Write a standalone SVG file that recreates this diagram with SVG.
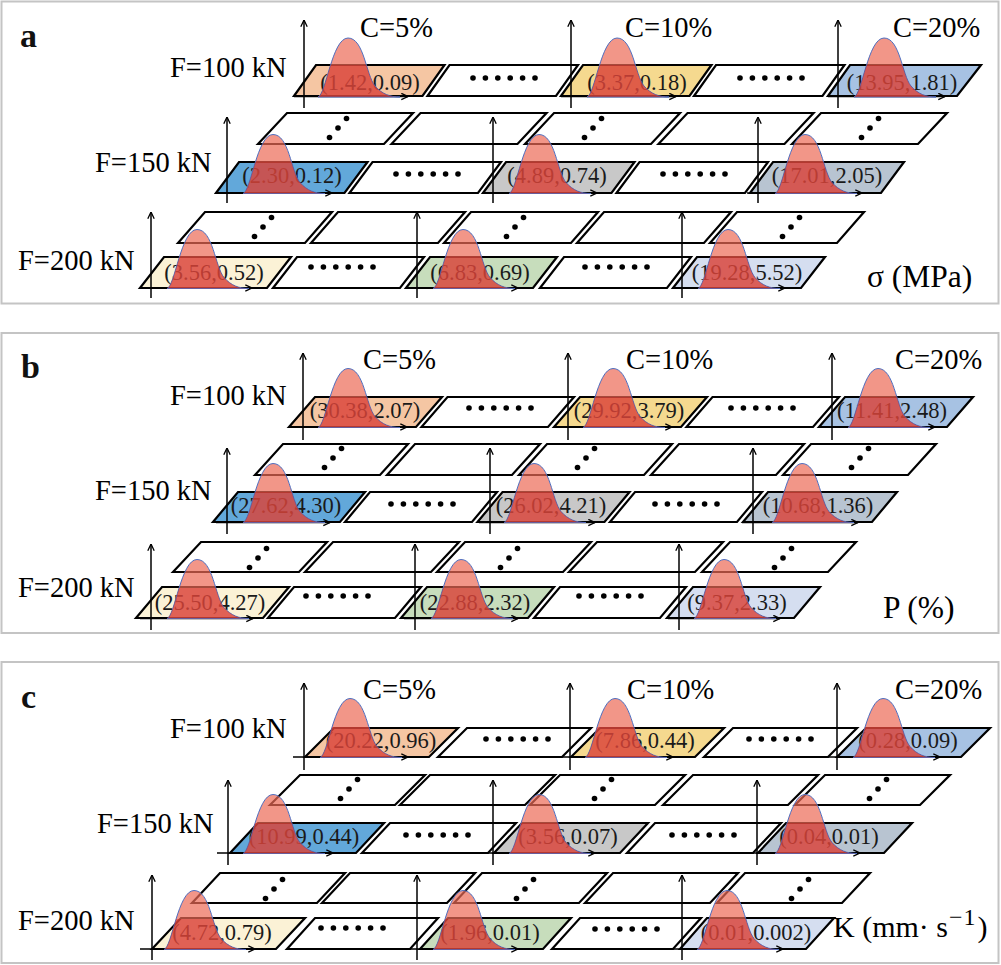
<svg xmlns="http://www.w3.org/2000/svg" width="1001" height="965" viewBox="0 0 1001 965">
<style>
.bd{fill:#fff;stroke:#c4c4c4;stroke-width:2}
.pg{stroke:#000;stroke-width:2.2;stroke-linejoin:miter}
.w{fill:#fff}.or{fill:#F5C6A3}.ye{fill:#F5D98F}.bl{fill:#A7C2E3}.b2{fill:#62A8DA}.gr{fill:#C8C8C8}.gb{fill:#B8C4D1}.cr{fill:#FBF2D6}.gn{fill:#C7DDBC}.lv{fill:#D5DEF0}
.ax line{stroke:#000;stroke-width:1.5;fill:none;marker-end:url(#ar)}
.t{font-family:"Liberation Serif","Times New Roman",serif;font-size:28.5px;fill:#000}
.u{font-family:"Liberation Serif","Times New Roman",serif;font-size:31.5px;fill:#000}
.d{font-family:"Liberation Serif","Times New Roman",serif;font-size:22.5px;fill:#1a1a1a;text-anchor:middle}
.L{font-family:"Liberation Serif","Times New Roman",serif;font-size:34px;font-weight:bold;fill:#111}
.c1{fill:#EC6A55;fill-opacity:.7;stroke:#4F6FC0;stroke-width:1}
.c2{fill:#C81E1E;fill-opacity:.42;stroke:none}
.dt{fill:#000}
</style>
<defs>
<marker id="ar" viewBox="0 0 8 8" refX="7.5" refY="4" markerWidth="8" markerHeight="8" markerUnits="userSpaceOnUse" orient="auto"><path d="M0.8,0.8 L7.5,4 L0.8,7.2" fill="none" stroke="#000" stroke-width="1.3"/></marker>
<path id="cv" d="M-30,0 C-22,-2 -16,-59 0,-59 C16,-59 18,-22 27,-11 C34,-3 42,0 52,0 Z"/>
<clipPath id="lo1"><rect x="-40" y="-32" width="100" height="33"/></clipPath>
<clipPath id="lo"><rect x="-40" y="-30.5" width="100" height="31.5"/></clipPath>
<g id="hd" class="dt"><circle cx="-31" cy="0" r="2.8"/><circle cx="-18.6" cy="0" r="2.8"/><circle cx="-6.2" cy="0" r="2.8"/><circle cx="6.2" cy="0" r="2.8"/><circle cx="18.6" cy="0" r="2.8"/><circle cx="31" cy="0" r="2.8"/></g>
<g id="vd" class="dt"><circle cx="-8.5" cy="9.5" r="2.8"/><circle cx="0" cy="0" r="2.8"/><circle cx="8.5" cy="-9.5" r="2.8"/></g>
</defs>

<!-- ===================== PANEL A ===================== -->
<g id="panel-a">
<rect class="bd" x="1.5" y="1.5" width="997" height="302"/>
<text class="L" x="20" y="47">a</text>
<text class="t" x="170" y="77">F=100 kN</text>
<text class="t" x="95" y="172">F=150 kN</text>
<text class="t" x="18" y="270">F=200 kN</text>
<text class="t" x="360" y="37">C=5%</text>
<text class="t" x="625" y="37">C=10%</text>
<text class="t" x="893" y="37">C=20%</text>
<text class="u" x="867" y="287">σ (MPa)</text>
</g>
<g id="a-f150-back">
<g id="a-f150b-1"><polygon class="pg w" points="258,144 287,113 413,113 384,144"/><use href="#vd" x="338" y="128"/></g>
<g id="a-f150b-2"><polygon class="pg w" points="391.5,144 420.5,113 546.5,113 517.5,144"/></g>
<g id="a-f150b-3"><polygon class="pg w" points="525,144 554,113 680,113 651,144"/><use href="#vd" x="593" y="128"/></g>
<g id="a-f150b-4"><polygon class="pg w" points="658.5,144 687.5,113 813.5,113 784.5,144"/></g>
<g id="a-f150b-5"><polygon class="pg w" points="792,144 821,113 947,113 918,144"/><use href="#vd" x="870" y="128"/></g>
</g>
<g id="a-f200-back">
<g id="a-f200b-1"><polygon class="pg w" points="178,243 205,212 332,212 305,243"/><use href="#vd" x="263" y="227"/></g>
<g id="a-f200b-2"><polygon class="pg w" points="311,243 338,212 465,212 438,243"/></g>
<g id="a-f200b-3"><polygon class="pg w" points="444,243 471,212 598,212 571,243"/><use href="#vd" x="515" y="227"/></g>
<g id="a-f200b-4"><polygon class="pg w" points="577,243 604,212 731,212 704,243"/></g>
<g id="a-f200b-5"><polygon class="pg w" points="710,243 737,212 864,212 837,243"/><use href="#vd" x="791" y="227"/></g>
</g>
<g id="a-f100">
<g id="a-f100-c5"><polygon class="pg or" points="294,96 316,65 444.5,65 422.5,96"/><text class="d" x="370" y="90">(1.42,0.09)</text></g>
<g id="a-f100-2"><polygon class="pg w" points="427.5,96 449.5,65 578,65 556,96"/><use href="#hd" x="504" y="78"/></g>
<g id="a-f100-c10"><polygon class="pg ye" points="561,96 583,65 711.5,65 689.5,96"/><text class="d" x="637" y="90">(3.37,0.18)</text></g>
<g id="a-f100-4"><polygon class="pg w" points="694,96 716,65 844.5,65 822.5,96"/><use href="#hd" x="771" y="78"/></g>
<g id="a-f100-c20"><polygon class="pg bl" points="828,96 850,65 981,65 957,96"/><text class="d" x="902" y="90">(13.95,1.81)</text></g>
</g>
<g id="a-f150">
<g id="a-f150-c5"><polygon class="pg b2" points="216,193 239,162 367.5,162 344.5,193"/><text class="d" x="292" y="183">(2.30,0.12)</text></g>
<g id="a-f150-2"><polygon class="pg w" points="349.5,193 372.5,162 501,162 478,193"/><use href="#hd" x="427" y="174"/></g>
<g id="a-f150-c10"><polygon class="pg gr" points="483,193 506,162 634.5,162 611.5,193"/><text class="d" x="557" y="183">(4.89,0.74)</text></g>
<g id="a-f150-4"><polygon class="pg w" points="616.5,193 639.5,162 768,162 745,193"/><use href="#hd" x="694" y="174"/></g>
<g id="a-f150-c20"><polygon class="pg gb" points="750,193 773,162 904,162 881,193"/><text class="d" x="827" y="183">(17.01,2.05)</text></g>
</g>
<g id="a-f200">
<g id="a-f200-c5"><polygon class="pg cr" points="140,288 164,257 291,257 267,288"/><text class="d" x="214" y="280">(3.56,0.52)</text></g>
<g id="a-f200-2"><polygon class="pg w" points="273,288 297,257 424,257 400,288"/><use href="#hd" x="342" y="267"/></g>
<g id="a-f200-c10"><polygon class="pg gn" points="406,288 430,257 557,257 533,288"/><text class="d" x="480" y="280">(6.83,0.69)</text></g>
<g id="a-f200-4"><polygon class="pg w" points="540,288 564,257 691,257 667,288"/><use href="#hd" x="616" y="267"/></g>
<g id="a-f200-c20"><polygon class="pg lv" points="673,288 697,257 825,257 801,288"/><text class="d" x="747" y="280">(19.28,5.52)</text></g>
</g>
<g id="a-axes" class="ax">
<line x1="304" y1="108" x2="304" y2="20"/><line x1="571" y1="108" x2="571" y2="20"/><line x1="838" y1="108" x2="838" y2="20"/>
<line x1="294" y1="96.5" x2="408" y2="96.5"/><line x1="561" y1="96.5" x2="676" y2="96.5"/><line x1="828" y1="96.5" x2="945" y2="96.5"/>
<line x1="227" y1="203" x2="227" y2="117"/><line x1="493" y1="203" x2="493" y2="117"/><line x1="758" y1="203" x2="758" y2="117"/>
<line x1="216" y1="193" x2="332" y2="193"/><line x1="482" y1="193" x2="597" y2="193"/><line x1="747" y1="193" x2="862" y2="193"/>
<line x1="151" y1="298" x2="151" y2="212"/><line x1="417" y1="298" x2="417" y2="212"/><line x1="682" y1="298" x2="682" y2="212"/>
<line x1="140" y1="288" x2="252" y2="288"/><line x1="406" y1="288" x2="518" y2="288"/><line x1="672" y1="288" x2="785" y2="288"/>
</g>
<g id="a-curves">
<g transform="translate(348,97)"><use href="#cv" class="c1"/><use href="#cv" class="c2" clip-path="url(#lo1)"/></g>
<g transform="translate(617,97)"><use href="#cv" class="c1"/><use href="#cv" class="c2" clip-path="url(#lo1)"/></g>
<g transform="translate(884,97)"><use href="#cv" class="c1"/><use href="#cv" class="c2" clip-path="url(#lo1)"/></g>
<g transform="translate(273,193.5)"><use href="#cv" class="c1"/><use href="#cv" class="c2" clip-path="url(#lo1)"/></g>
<g transform="translate(539,193.5)"><use href="#cv" class="c1"/><use href="#cv" class="c2" clip-path="url(#lo1)"/></g>
<g transform="translate(805,193.5)"><use href="#cv" class="c1"/><use href="#cv" class="c2" clip-path="url(#lo1)"/></g>
<g transform="translate(197,288.5)"><use href="#cv" class="c1"/><use href="#cv" class="c2" clip-path="url(#lo1)"/></g>
<g transform="translate(463,288.5)"><use href="#cv" class="c1"/><use href="#cv" class="c2" clip-path="url(#lo1)"/></g>
<g transform="translate(728,288.5)"><use href="#cv" class="c1"/><use href="#cv" class="c2" clip-path="url(#lo1)"/></g>
</g>

<!-- ===================== PANEL B ===================== -->
<g id="panel-b">
<rect class="bd" x="1.5" y="333" width="997" height="300"/>
<text class="L" x="21" y="378">b</text>
<text class="t" x="170" y="405">F=100 kN</text>
<text class="t" x="95" y="500">F=150 kN</text>
<text class="t" x="18" y="597">F=200 kN</text>
<text class="t" x="363" y="369">C=5%</text>
<text class="t" x="626" y="369">C=10%</text>
<text class="t" x="895" y="369">C=20%</text>
<text class="u" x="883" y="618">P (%)</text>
</g>
<g id="b-f150-back">
<g id="b-f150b-1"><polygon class="pg w" points="255,475 283,444 408,444 380,475"/><use href="#vd" x="333" y="458"/></g>
<g id="b-f150b-2"><polygon class="pg w" points="387,475 415,444 540,444 512,475"/></g>
<g id="b-f150b-3"><polygon class="pg w" points="519,475 547,444 672,444 644,475"/><use href="#vd" x="586" y="458"/></g>
<g id="b-f150b-4"><polygon class="pg w" points="651,475 679,444 804,444 776,475"/></g>
<g id="b-f150b-5"><polygon class="pg w" points="783,475 811,444 936,444 908,475"/><use href="#vd" x="860" y="458"/></g>
</g>
<g id="b-f200-back">
<g id="b-f200b-1"><polygon class="pg w" points="173,572 201,542 327,542 299,572"/><use href="#vd" x="258" y="558"/></g>
<g id="b-f200b-2"><polygon class="pg w" points="305,572 333,542 459,542 431,572"/></g>
<g id="b-f200b-3"><polygon class="pg w" points="437,572 465,542 591,542 563,572"/><use href="#vd" x="509" y="558"/></g>
<g id="b-f200b-4"><polygon class="pg w" points="569,572 597,542 723,542 695,572"/></g>
<g id="b-f200b-5"><polygon class="pg w" points="702,572 730,542 856,542 828,572"/><use href="#vd" x="783" y="558"/></g>
</g>
<g id="b-f100">
<g id="b-f100-c5"><polygon class="pg or" points="289,427 315,397 442,397 416,427"/><text class="d" x="365" y="418">(30.38,2.07)</text></g>
<g id="b-f100-2"><polygon class="pg w" points="421.5,427 447.5,397 574,397 548,427"/><use href="#hd" x="500" y="408"/></g>
<g id="b-f100-c10"><polygon class="pg ye" points="554,427 580,397 707,397 681,427"/><text class="d" x="629" y="418">(29.92,3.79)</text></g>
<g id="b-f100-4"><polygon class="pg w" points="686.5,427 712.5,397 839,397 813,427"/><use href="#hd" x="762" y="408"/></g>
<g id="b-f100-c20"><polygon class="pg bl" points="819,427 845,397 973,397 947,427"/><text class="d" x="892" y="418">(11.41,2.48)</text></g>
</g>
<g id="b-f150">
<g id="b-f150-c5"><polygon class="pg b2" points="213,522 238,492 365,492 340,522"/><text class="d" x="286" y="513">(27.62,4.30)</text></g>
<g id="b-f150-2"><polygon class="pg w" points="345,522 370,492 497,492 472,522"/><use href="#hd" x="422" y="504"/></g>
<g id="b-f150-c10"><polygon class="pg gr" points="477.5,522 502.5,492 629.5,492 604.5,522"/><text class="d" x="551" y="513">(26.02,4.21)</text></g>
<g id="b-f150-4"><polygon class="pg w" points="610,522 635,492 762,492 737,522"/><use href="#hd" x="686" y="504"/></g>
<g id="b-f150-c20"><polygon class="pg gb" points="743,522 768,492 897,492 872,522"/><text class="d" x="818" y="513">(10.68,1.36)</text></g>
</g>
<g id="b-f200">
<g id="b-f200-c5"><polygon class="pg cr" points="136,618 162,587 289,587 263,618"/><text class="d" x="210" y="610">(25.50,4.27)</text></g>
<g id="b-f200-2"><polygon class="pg w" points="268,618 294,587 421,587 395,618"/><use href="#hd" x="337" y="596"/></g>
<g id="b-f200-c10"><polygon class="pg gn" points="401,618 427,587 554,587 528,618"/><text class="d" x="475" y="610">(22.88,2.32)</text></g>
<g id="b-f200-4"><polygon class="pg w" points="534,618 560,587 686,587 660,618"/><use href="#hd" x="610" y="596"/></g>
<g id="b-f200-c20"><polygon class="pg lv" points="667,618 693,587 820,587 794,618"/><text class="d" x="737" y="610">(9.37,2.33)</text></g>
</g>
<g id="b-axes" class="ax">
<line x1="303" y1="440" x2="303" y2="353"/><line x1="568" y1="440" x2="568" y2="353"/><line x1="832" y1="440" x2="832" y2="353"/>
<line x1="292" y1="427" x2="407" y2="427"/><line x1="557" y1="427" x2="672" y2="427"/><line x1="821" y1="427" x2="935" y2="427"/>
<line x1="227" y1="534" x2="227" y2="448"/><line x1="490" y1="534" x2="490" y2="448"/><line x1="753" y1="534" x2="753" y2="448"/>
<line x1="216" y1="522.5" x2="330" y2="522.5"/><line x1="479" y1="522.5" x2="595" y2="522.5"/><line x1="742" y1="522.5" x2="858" y2="522.5"/>
<line x1="151" y1="630" x2="151" y2="544"/><line x1="415" y1="630" x2="415" y2="544"/><line x1="679" y1="630" x2="679" y2="544"/>
<line x1="140" y1="618.5" x2="253" y2="618.5"/><line x1="404" y1="618.5" x2="518" y2="618.5"/><line x1="668" y1="618.5" x2="780" y2="618.5"/>
</g>
<g id="b-curves">
<g transform="translate(348,427.5)"><use href="#cv" class="c1"/><use href="#cv" class="c2" clip-path="url(#lo)"/></g>
<g transform="translate(613,427.5)"><use href="#cv" class="c1"/><use href="#cv" class="c2" clip-path="url(#lo)"/></g>
<g transform="translate(878,427.5)"><use href="#cv" class="c1"/><use href="#cv" class="c2" clip-path="url(#lo)"/></g>
<g transform="translate(273,522.5)"><use href="#cv" class="c1"/><use href="#cv" class="c2" clip-path="url(#lo)"/></g>
<g transform="translate(534,522.5)"><use href="#cv" class="c1"/><use href="#cv" class="c2" clip-path="url(#lo)"/></g>
<g transform="translate(802,522.5)"><use href="#cv" class="c1"/><use href="#cv" class="c2" clip-path="url(#lo)"/></g>
<g transform="translate(197,618.5)"><use href="#cv" class="c1"/><use href="#cv" class="c2" clip-path="url(#lo)"/></g>
<g transform="translate(461,618.5)"><use href="#cv" class="c1"/><use href="#cv" class="c2" clip-path="url(#lo)"/></g>
<g transform="translate(724,618.5)"><use href="#cv" class="c1"/><use href="#cv" class="c2" clip-path="url(#lo)"/></g>
</g>

<!-- ===================== PANEL C ===================== -->
<g id="panel-c">
<rect class="bd" x="1.5" y="662" width="997" height="301"/>
<text class="L" x="21" y="708">c</text>
<text class="t" x="170" y="738">F=100 kN</text>
<text class="t" x="97" y="833">F=150 kN</text>
<text class="t" x="18" y="930">F=200 kN</text>
<text class="t" x="363" y="699">C=5%</text>
<text class="t" x="627" y="699">C=10%</text>
<text class="t" x="895" y="699">C=20%</text>
<text class="u" x="833" y="937" style="font-size:30px">K (mm· s<tspan dx="1" dy="-12" style="font-size:24px">−</tspan><tspan dx="1" style="font-size:24px">1</tspan><tspan dx="2" dy="12">)</tspan></text>
</g>
<g id="c-f150-back">
<g id="c-f150b-1"><polygon class="pg w" points="270,805 300,775 425,775 395,805"/><use href="#vd" x="349" y="789"/></g>
<g id="c-f150b-2"><polygon class="pg w" points="400,805 430,775 555,775 525,805"/></g>
<g id="c-f150b-3"><polygon class="pg w" points="530,805 560,775 685,775 655,805"/><use href="#vd" x="603" y="789"/></g>
<g id="c-f150b-4"><polygon class="pg w" points="663,805 693,775 818,775 788,805"/></g>
<g id="c-f150b-5"><polygon class="pg w" points="795,805 825,775 950,775 920,805"/><use href="#vd" x="878" y="789"/></g>
</g>
<g id="c-f200-back">
<g id="c-f200b-1"><polygon class="pg w" points="192,903 220,873 345,873 317,903"/><use href="#vd" x="274" y="889"/></g>
<g id="c-f200b-2"><polygon class="pg w" points="322,903 350,873 475,873 447,903"/></g>
<g id="c-f200b-3"><polygon class="pg w" points="454,903 482,873 607,873 579,903"/><use href="#vd" x="525" y="889"/></g>
<g id="c-f200b-4"><polygon class="pg w" points="585,903 613,873 738,873 710,903"/></g>
<g id="c-f200b-5"><polygon class="pg w" points="717,903 745,873 870,873 842,903"/><use href="#vd" x="800" y="889"/></g>
</g>
<g id="c-f100">
<g id="c-f100-c5"><polygon class="pg or" points="305,757 334,728 458,728 429,757"/><text class="d" x="381" y="748">(20.22,0.96)</text></g>
<g id="c-f100-2"><polygon class="pg w" points="438,757 467,728 591,728 562,757"/><use href="#hd" x="517" y="739"/></g>
<g id="c-f100-c10"><polygon class="pg ye" points="571,757 600,728 724,728 695,757"/><text class="d" x="645" y="748">(7.86,0.44)</text></g>
<g id="c-f100-4"><polygon class="pg w" points="704,757 733,728 857,728 828,757"/><use href="#hd" x="780" y="739"/></g>
<g id="c-f100-c20"><polygon class="pg bl" points="837,757 866,728 990,728 961,757"/><text class="d" x="908" y="748">(0.28,0.09)</text></g>
</g>
<g id="c-f150">
<g id="c-f150-c5"><polygon class="pg b2" points="230,853 258,823 384,823 356,853"/><text class="d" x="304" y="844">(10.99,0.44)</text></g>
<g id="c-f150-2"><polygon class="pg w" points="362,853 390,823 516,823 488,853"/><use href="#hd" x="437" y="835"/></g>
<g id="c-f150-c10"><polygon class="pg gr" points="494,853 522,823 648,823 620,853"/><text class="d" x="568" y="844">(3.56,0.07)</text></g>
<g id="c-f150-4"><polygon class="pg w" points="627,853 655,823 781,823 753,853"/><use href="#hd" x="703" y="835"/></g>
<g id="c-f150-c20"><polygon class="pg gb" points="758,853 786,823 912,823 884,853"/><text class="d" x="829" y="844">(0.04,0.01)</text></g>
</g>
<g id="c-f200">
<g id="c-f200-c5"><polygon class="pg cr" points="152,949 181,918 305,918 276,949"/><text class="d" x="222" y="940">(4.72,0.79)</text></g>
<g id="c-f200-2"><polygon class="pg w" points="287,949 315,918 438,918 410,949"/><use href="#hd" x="352" y="928"/></g>
<g id="c-f200-c10"><polygon class="pg gn" points="420,949 448,918 571,918 543,949"/><text class="d" x="490" y="940">(1.96,0.01)</text></g>
<g id="c-f200-4"><polygon class="pg w" points="552,949 580,918 701,918 673,949"/><use href="#hd" x="626" y="929"/></g>
<g id="c-f200-c20"><polygon class="pg lv" points="680,949 707,918 834,918 806,949"/><text class="d" x="756" y="940">(0.01,0.002)</text></g>
</g>
<g id="c-axes" class="ax">
<line x1="304" y1="770" x2="304" y2="683"/><line x1="570" y1="770" x2="570" y2="683"/><line x1="837" y1="770" x2="837" y2="683"/>
<line x1="293" y1="757" x2="408" y2="757"/><line x1="559" y1="757" x2="673" y2="757"/><line x1="826" y1="757" x2="940" y2="757"/>
<line x1="228" y1="865" x2="228" y2="780"/><line x1="493" y1="865" x2="493" y2="780"/><line x1="757" y1="865" x2="757" y2="780"/>
<line x1="217" y1="853" x2="333" y2="853"/><line x1="482" y1="853" x2="595" y2="853"/><line x1="746" y1="853" x2="860" y2="853"/>
<line x1="152" y1="960" x2="152" y2="875"/><line x1="417" y1="960" x2="417" y2="875"/><line x1="682" y1="960" x2="682" y2="875"/>
<line x1="140" y1="949" x2="255" y2="949"/><line x1="405" y1="949" x2="518" y2="949"/><line x1="670" y1="949" x2="783" y2="949"/>
</g>
<g id="c-curves">
<g transform="translate(350,757.5)"><use href="#cv" class="c1"/><use href="#cv" class="c2" clip-path="url(#lo)"/></g>
<g transform="translate(615,757.5)"><use href="#cv" class="c1"/><use href="#cv" class="c2" clip-path="url(#lo)"/></g>
<g transform="translate(883,757.5)"><use href="#cv" class="c1"/><use href="#cv" class="c2" clip-path="url(#lo)"/></g>
<g transform="translate(273,853.5)"><use href="#cv" class="c1"/><use href="#cv" class="c2" clip-path="url(#lo)"/></g>
<g transform="translate(539,853.5)"><use href="#cv" class="c1"/><use href="#cv" class="c2" clip-path="url(#lo)"/></g>
<g transform="translate(805,853.5)"><use href="#cv" class="c1"/><use href="#cv" class="c2" clip-path="url(#lo)"/></g>
<g transform="translate(194,949.5)"><use href="#cv" class="c1"/><use href="#cv" class="c2" clip-path="url(#lo)"/></g>
<g transform="translate(463,949.5)"><use href="#cv" class="c1"/><use href="#cv" class="c2" clip-path="url(#lo)"/></g>
<g transform="translate(727,949.5)"><use href="#cv" class="c1"/><use href="#cv" class="c2" clip-path="url(#lo)"/></g>
</g>
</svg>
